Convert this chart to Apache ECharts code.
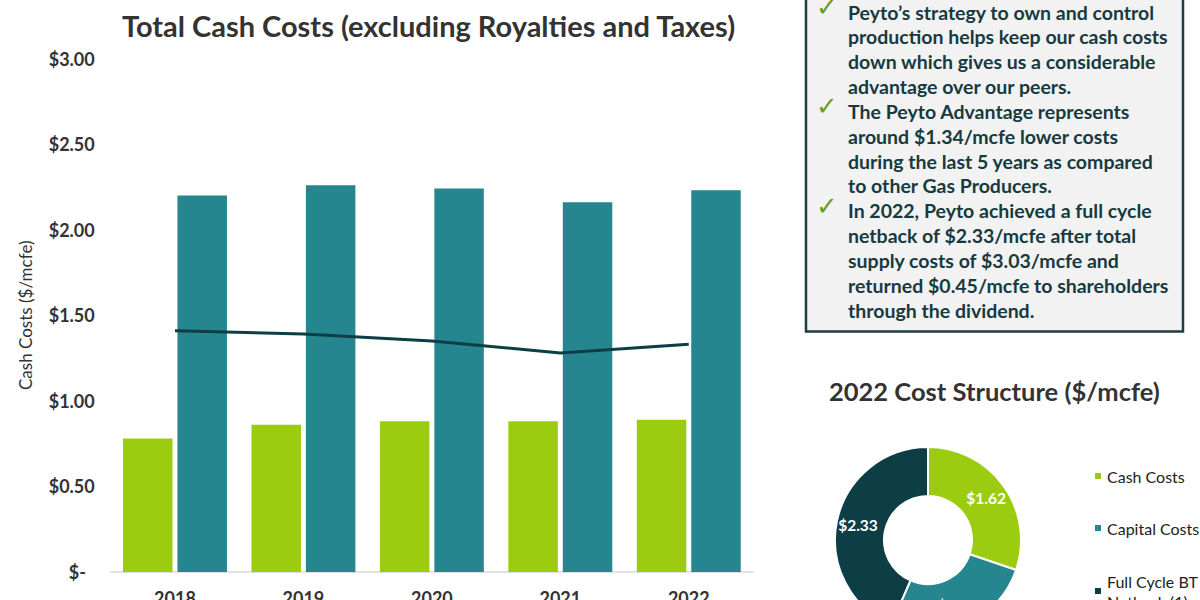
<!DOCTYPE html>
<html>
<head>
<meta charset="utf-8">
<script src="https://cdn.jsdelivr.net/npm/echarts@6/dist/echarts.min.js"></script>
<style>
html,body{margin:0;padding:0;background:#fff;}
#chart{width:1200px;height:600px;}
</style>
</head>
<body>
<div id="chart"></div>
<script>
// ---- data ----
const years = ['2018', '2019', '2020', '2021', '2022'];
const peytoCashCosts = [0.78, 0.86, 0.88, 0.88, 0.89];
const peerCashCosts = [2.20, 2.26, 2.24, 2.16, 2.23];
const peytoAdvantage = [1.41, 1.39, 1.35, 1.28, 1.33];
const costNames = ['Cash Costs', 'Capital Costs', 'Full Cycle BT Netback (1)'];
const costValues = [1.62, 1.41, 2.33];
const bullets = [
  'Peyto\u2019s strategy to own and control\nproduction helps keep our cash costs\ndown which gives us a considerable\nadvantage over our peers.',
  'The Peyto Advantage represents\naround $1.34/mcfe lower costs\nduring the last 5 years as compared\nto other Gas Producers.',
  'In 2022, Peyto achieved a full cycle\nnetback of $2.33/mcfe after total\nsupply costs of $3.03/mcfe and\nreturned $0.45/mcfe to shareholders\nthrough the dividend.'
];
const bulletStartLine = [0, 4, 8];

// ---- styles ----
const GREEN = '#9ccc10';
const TEAL = '#26868f';
const DARK = '#0d3d45';
const FONT = 'Lato, "Open Sans", sans-serif';
const LINE_H = 24.85;

const chart = echarts.init(document.getElementById('chart'), null, {renderer: 'svg'});

const graphics = [
  {
    type: 'rect', z: 0,
    shape: {x: 806, y: -10, width: 377, height: 341.5},
    style: {fill: '#f2f2f2', stroke: '#1c3d42', lineWidth: 2.5}
  }
];
bullets.forEach(function (txt, i) {
  const lineCenter = 12 + LINE_H * bulletStartLine[i];
  graphics.push({
    type: 'text', z: 1,
    style: {
      x: 816, y: lineCenter - 5,
      text: '\u2713',
      fill: '#6b9b22',
      fontFamily: '"DejaVu Sans", sans-serif',
      fontWeight: 'bold',
      fontSize: 26,
      verticalAlign: 'middle', align: 'left'
    }
  });
  graphics.push({
    type: 'text', z: 1,
    style: {
      x: 848, y: lineCenter - LINE_H / 2,
      text: txt,
      fill: '#163a3f',
      fontFamily: FONT,
      fontWeight: 'bold',
      fontSize: 19.5,
      lineHeight: LINE_H,
      verticalAlign: 'top', align: 'left'
    }
  });
});

const legendBase = {
  orient: 'vertical',
  left: 1093,
  padding: 0,
  icon: 'rect',
  itemWidth: 8,
  itemHeight: 8,
  textStyle: {fontFamily: FONT, fontSize: 16, color: '#222222', lineHeight: 20},
  selectedMode: false
};

chart.setOption({
  animation: false,
  backgroundColor: '#ffffff',
  title: [
    {
      text: 'Total Cash Costs (excluding Royalties and Taxes)',
      left: 117, top: 3,
      textStyle: {fontFamily: FONT, fontWeight: 'bold', fontSize: 29, color: '#333333', lineHeight: 34}
    },
    {
      text: '2022 Cost Structure ($/mcfe)',
      left: 824, top: 371,
      textStyle: {fontFamily: FONT, fontWeight: 'bold', fontSize: 25.5, color: '#333333', lineHeight: 30}
    }
  ],
  legend: [
    Object.assign({}, legendBase, {top: 466, data: [costNames[0]]}),
    Object.assign({}, legendBase, {top: 518, data: [costNames[1]]}),
    Object.assign({}, legendBase, {
      top: 561,
      data: [{name: costNames[2], textStyle: {padding: [20, 0, 0, 0]}}],
      formatter: function (n) { return n === costNames[2] ? 'Full Cycle BT\nNetback (1)' : n; }
    })
  ],
  grid: {left: 110.75, right: 447, top: 58.5, bottom: 28, containLabel: false, outerBoundsMode: 'none'},
  xAxis: {
    type: 'category',
    data: years,
    axisLine: {lineStyle: {color: '#d9d9d9', width: 1.5}},
    axisTick: {show: false},
    axisLabel: {fontFamily: FONT, fontWeight: 'bold', fontSize: 18, color: '#333333', margin: 17}
  },
  yAxis: {
    type: 'value',
    min: 0, max: 3, interval: 0.5,
    name: 'Cash Costs ($/mcfe)',
    nameLocation: 'middle',
    nameGap: 77,
    nameTextStyle: {fontFamily: FONT, fontSize: 17, color: '#333333'},
    splitLine: {show: false},
    axisLine: {show: false},
    axisTick: {show: false},
    axisLabel: {
      fontFamily: FONT, fontWeight: 'bold', fontSize: 18, color: '#333333', margin: 16,
      formatter: function (v) { return v === 0 ? '$-  ' : '$' + v.toFixed(2); }
    }
  },
  series: [
    {
      name: 'Peyto Cash Costs', type: 'bar', data: peytoCashCosts,
      barWidth: 49.5, barGap: '10%',
      itemStyle: {color: GREEN}
    },
    {
      name: 'Peer Cash Costs', type: 'bar', data: peerCashCosts,
      barWidth: 49.5, barGap: '10%',
      itemStyle: {color: TEAL}
    },
    {
      name: 'Peyto Advantage', type: 'line', data: peytoAdvantage,
      symbol: 'none', lineStyle: {color: DARK, width: 3}, z: 5
    },
    {
      name: '2022 Cost Structure', type: 'pie',
      center: [928, 540], radius: [44, 93],
      startAngle: 90, clockwise: true,
      data: costNames.map(function (n, i) {
        return {name: n, value: costValues[i], itemStyle: {color: [GREEN, TEAL, DARK][i]}};
      }),
      itemStyle: {borderColor: '#ffffff', borderWidth: 2},
      label: {
        show: true, position: 'inside',
        formatter: function (p) { return '$' + p.value.toFixed(2); },
        fontFamily: FONT, fontWeight: 'bold', fontSize: 15.5, color: '#ffffff'
      },
      labelLine: {show: false},
      emphasis: {disabled: true}
    }
  ],
  graphic: graphics
});
</script>
</body>
</html>
